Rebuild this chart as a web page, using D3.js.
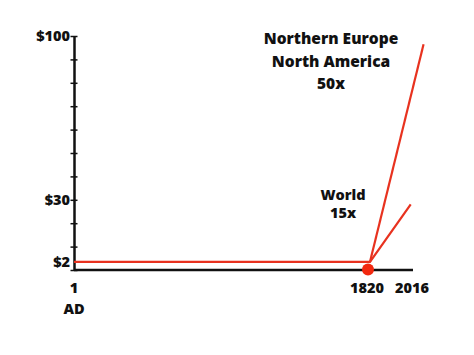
<!DOCTYPE html>
<html><head><meta charset="utf-8">
<script src="https://cdn.jsdelivr.net/npm/d3@7"></script>
<style>
html,body{margin:0;padding:0;background:#fff;}
text{font-family:"Open Sans",sans-serif;font-weight:800;fill:#111;}
</style></head>
<body><svg id="c" width="474" height="355"></svg>
<script>
// Data
const xBreaks = [1, 1820, 2016];            // piecewise x axis
const xTickLabels = ["1", "1820", "2016"];
const yTickValues = [3.5, 30, 100];
const yTickLabels = ["$2", "$30", "$100"];
const yMinorTicks = [0,10,20,30,40,50,60,70,80,90,100];
const worldYears = [1, 1820, 2010];
const worldValues = [3.5, 3.5, 28];
const northYears = [1820, 2070];
const northValues = [3.5, 96.5];
const markerYear = 1820;

const svg = d3.select("#c");
const x = d3.scaleLinear().domain(xBreaks).range([74, 370, 412]);
const y = d3.scaleLinear().domain([0, 100]).range([270, 36]);
const red = "#e8321f";

// y axis
const yAxis = d3.axisLeft(y).tickValues(yMinorTicks).tickSize(0).tickFormat("");
const gy = svg.append("g").attr("transform", "translate(74,0)").call(yAxis);
gy.select(".domain").attr("stroke", "#111").attr("stroke-width", 2.5);
gy.selectAll(".tick line").remove();
gy.selectAll(".tick").append("line").attr("x1", -3.5).attr("x2", 3.5)
  .attr("stroke", "#111").attr("stroke-width", 1.5);
// y labels
svg.append("g").selectAll("text").data(yTickValues).join("text")
  .attr("x", 70).attr("y", d => y(d)).attr("dy", "0.36em")
  .attr("text-anchor", "end").attr("font-size", 14.5)
  .text((d, i) => yTickLabels[i]);

// x axis line
svg.append("line").attr("x1", 74).attr("x2", 413).attr("y1", 270).attr("y2", 270)
  .attr("stroke", "#111").attr("stroke-width", 2.5);
svg.append("g").selectAll("text").data(xBreaks).join("text")
  .attr("x", d => x(d) - (d === 1820 ? 3 : 0)).attr("y", 293)
  .attr("text-anchor", "middle").attr("font-size", 14.5)
  .text((d, i) => xTickLabels[i]);
svg.append("text").attr("x", x(1)).attr("y", 314).attr("text-anchor", "middle")
  .attr("font-size", 14.5).text("AD");

// lines
const line = d3.line().x(d => x(d[0])).y(d => y(d[1]));
svg.append("path").datum(worldYears.map((yr, i) => [yr, worldValues[i]]))
  .attr("d", line).attr("fill", "none").attr("stroke", red).attr("stroke-width", 2.2);
svg.append("path").datum(northYears.map((yr, i) => [yr, northValues[i]]))
  .attr("d", line).attr("fill", "none").attr("stroke", red).attr("stroke-width", 2.2);

// marker
svg.append("circle").attr("cx", x(markerYear) - 2).attr("cy", 269.5).attr("r", 6)
  .attr("fill", "#f2280f");

// annotations
const ann = [["Northern Europe", 331, 44], ["North America", 331, 66.5], ["50x", 331, 89]];
svg.append("g").selectAll("text").data(ann).join("text")
  .attr("x", d => d[1]).attr("y", d => d[2]).attr("text-anchor", "middle")
  .attr("font-size", 15.5).text(d => d[0]);
const ann2 = [["World", 343, 200], ["15x", 343, 218]];
svg.append("g").selectAll("text").data(ann2).join("text")
  .attr("x", d => d[1]).attr("y", d => d[2]).attr("text-anchor", "middle")
  .attr("font-size", 14.5).text(d => d[0]);
</script></body></html>
